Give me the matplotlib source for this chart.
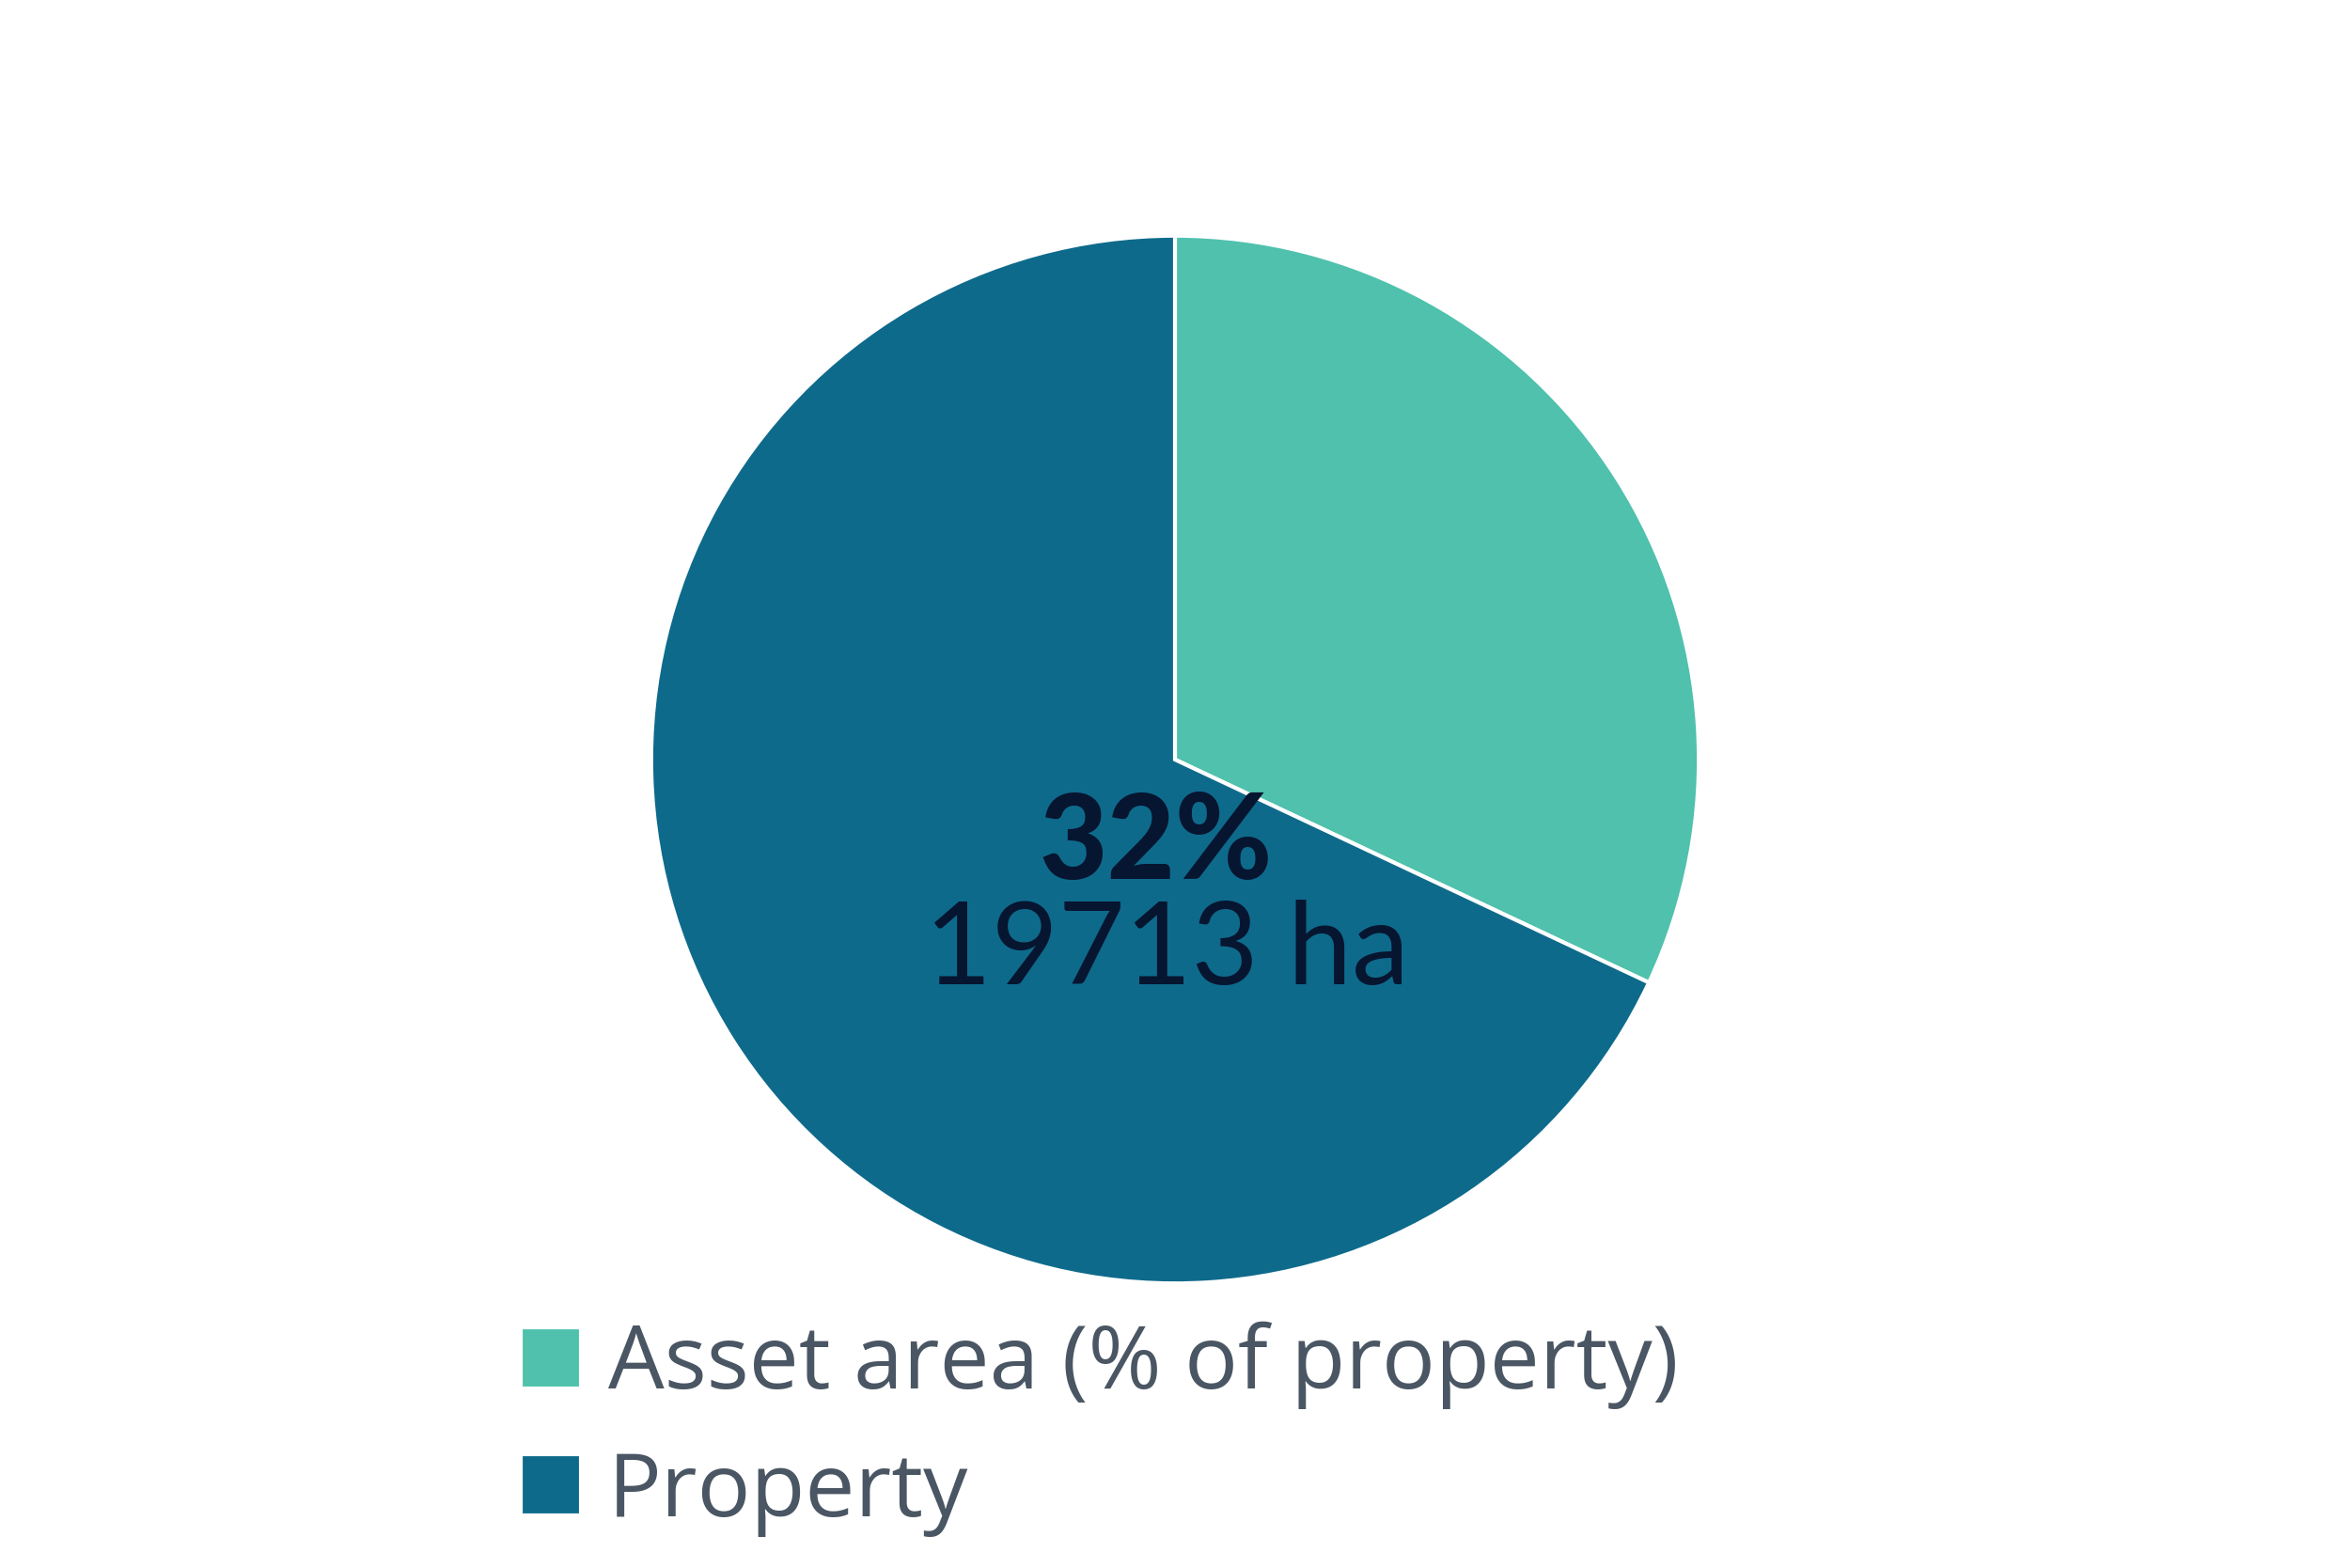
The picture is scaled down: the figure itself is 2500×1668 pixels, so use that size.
import matplotlib.pyplot as plt

labels = ["Asset area (% of property)", "Property"]
shares = [32, 68]
colors = ["#4fc1ad", "#0e6a8b"]
center_pct = "32%"
center_area = "19713 ha"

plt.rcParams["font.family"] = ["Lato", "DejaVu Sans"]

W, H = 2500, 1668
fig = plt.figure(figsize=(W / 100, H / 100), dpi=100)

# pie axes: centre (1250, 808) px, radius ~560 px
cx, cy, r = 1250, 808, 560
ax = fig.add_axes([(cx - r) / W, 1 - (cy + r) / H, 2 * r / W, 2 * r / H])
wedges, _ = ax.pie(shares, colors=colors, startangle=90, counterclock=False,
                   wedgeprops=dict(edgecolor="white", linewidth=3))
ax.set_xlim(-1.005, 1.005)
ax.set_ylim(-1.005, 1.005)
ax.set_aspect("equal")
ax.axis("off")

fig.text(1230 / W, 1 - 898 / H, center_pct, ha="center", va="center",
         fontsize=90, fontweight="black", color="#061530")
fig.text(1242 / W, 1 - 1013 / H, center_area, ha="center", va="center",
         fontsize=88, color="#061530")

leg = fig.legend(wedges, labels, loc="upper left",
                 bbox_to_anchor=(554 / W, 1 - 1406 / H), frameon=False,
                 prop={"family": "Open Sans", "size": 68},
                 handlelength=0.68, handleheight=0.68, borderaxespad=0,
                 handletextpad=0.3, labelspacing=0.45, borderpad=0)
for t in leg.get_texts():
    t.set_color("#4a5663")

fig.savefig("out.png", dpi=100, facecolor="white")
